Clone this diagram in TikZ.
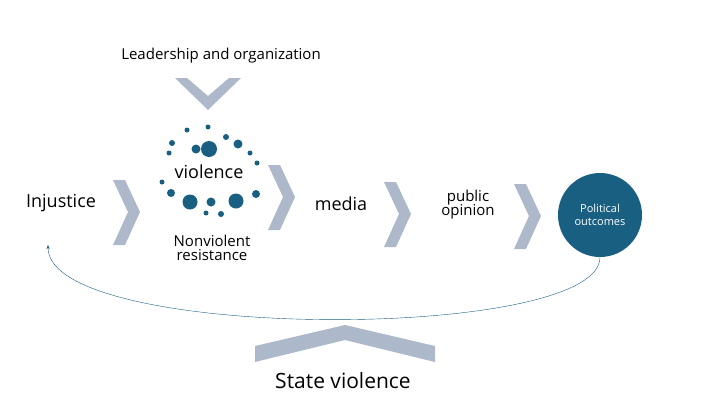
\documentclass[tikz,border=0pt]{standalone}
\usepackage{fontspec}
\setmainfont{Open Sans}
\usetikzlibrary{positioning,arrows.meta}
\definecolor{chevgray}{HTML}{ADB9CA}
\definecolor{deepblue}{HTML}{185F82}
\newcommand{\chev}[3]{% x, y (top-left), size
  \fill[chevgray] (#1,#2) -- ++(12,0) -- ++(15,32) -- ++(-15,33) -- ++(-12,0) -- ++(15,-33) -- cycle;}
\begin{document}
\begin{tikzpicture}[x=1pt,y=-1pt,
    lbl/.style={font=\fontsize{18}{20}\selectfont, inner sep=1pt},
    small/.style={font=\fontsize{15}{18}\selectfont, align=center, inner sep=1pt},
    dot/.style={fill=deepblue, draw=none}
]
\useasboundingbox (0,0) rectangle (720,405);

% chevrons
\chev{113}{180}{}
\chev{268}{165}{}
\chev{384}{182}{}
\chev{514}{184}{}
\fill[chevgray] (175,78) -- (187,78) -- (208,96) -- (229,78) -- (241,78) -- (208,110) -- cycle;
\fill[chevgray] (255,362) -- (255,346) -- (345,325) -- (435,346) -- (435,362) -- (345,340) -- cycle;

% dots
\foreach \px/\py/\r in {172/143/3, 187/130/2.5, 208/127/2.5, 196/149/4.5, 209/149/8, 226/137/3,
    238/144/4.5, 250/153/2.5, 257/163/2.5, 169/153/2.5, 162/182/2.5, 171/193/4, 190/202/7.5,
    211/202/4.5, 236/201/7.5, 256/194/4, 206/213/2.5, 221/214/3}
  \fill[dot] (\px,\py) circle (\r);

% texts
\node[small] (lead) at (221,56) {Leadership and organization};
\node[lbl] (inj) at (61,203) {Injustice};
\node[lbl] (viol) at (209,172) {violence};
\node[small] (nonv) at (212,248) {Nonviolent\\[-4pt]resistance};
\node[lbl] (media) at (341,204) {media};
\node[small] (pub) at (468,205) {public\\[-4pt]opinion};
\node[circle, fill=deepblue, minimum size=84pt, text=white, align=center,
      font=\fontsize{11}{13}\selectfont] (pol) at (600,215) {Political\\outcomes};
\node[font=\fontsize{21}{24}\selectfont] (state) at (343,381) {State violence};

% feedback
\coordinate (inj-in) at (48,245);
\draw[deepblue, -{Stealth[length=4pt,width=3pt]}] (pol.south) .. controls (600,342) and (48,342) .. (inj-in);
\end{tikzpicture}
\end{document}
